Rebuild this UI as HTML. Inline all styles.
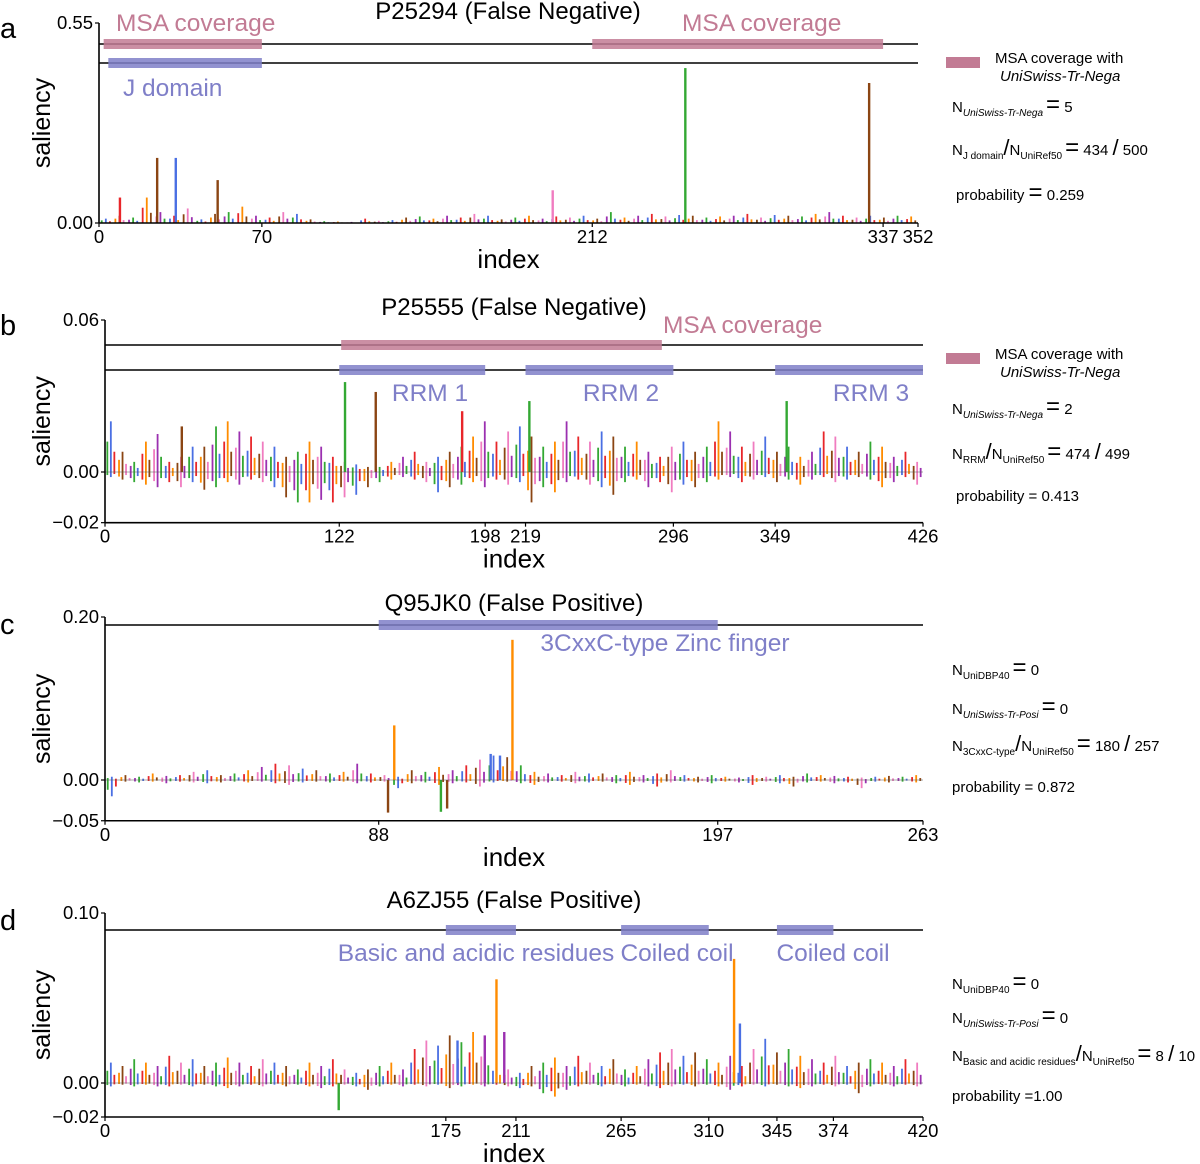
<!DOCTYPE html>
<html><head><meta charset="utf-8"><style>
body{margin:0;background:#fff;}
svg{display:block;font-family:"Liberation Sans",Arial,sans-serif;}
</style></head><body>
<svg id="fig" width="1200" height="1164" viewBox="0 0 1200 1164" xmlns="http://www.w3.org/2000/svg"></svg>
<script>
// ---------- data ----------
const aPeakIdx=[9,25,33,51,195,252,331];
const aPeakVal=[0.07,0.179,0.179,0.118,0.09,0.426,0.385];
const aPeakCol=[2,4,1,4,5,0,4];
const aPos=[0.012,0.02,0.015,0.07,0.03,0.02,0.04,0.01,0.025,0.03,0.045,0.02,0.015,0.03,0.025,0.01,0.005,0.004,0.003,0.012,0.006,0.008,0.015,0.018,0.012,0.02,0.015,0.025,0.02,0.01,0.015,0.02,0.012,0.018,0.015,0.02,0.012,0.03,0.015,0.02,0.025,0.018,0.022,0.02,0.015,0.018,0.02,0.025,0.015,0.022,0.02,0.018,0.025,0.03,0.02,0.015,0.02,0.015,0.02,0.018];
const aNeg=[];

const bPeakIdx=[125,141,186,221,355,40];
const bPeakVal=[0.0355,0.0316,0.024,0.028,0.028,0.018];
const bPeakCol=[0,4,2,0,0,4];
const bPos=[0.02,0.008,0.004,0.012,0.015,0.004,0.006,0.01,0.01,0.018,0.02,0.016,0.014,0.012,0.01,0.006,0.008,0.012,0.01,0.006,0.004,0.003,0.002,0.002,0.004,0.006,0.008,0.004,0.006,0.008,0.01,0.014,0.02,0.012,0.016,0.018,0.014,0.01,0.012,0.02,0.014,0.012,0.016,0.014,0.01,0.012,0.008,0.006,0.01,0.012,0.008,0.01,0.02,0.016,0.01,0.012,0.014,0.008,0.01,0.006,0.008,0.016,0.014,0.01,0.008,0.012,0.01,0.006,0.008,0.004];
const bNeg=[-0.002,-0.003,-0.004,-0.005,-0.006,-0.004,-0.006,-0.004,-0.007,-0.006,-0.004,-0.005,-0.003,-0.004,-0.006,-0.01,-0.012,-0.012,-0.011,-0.012,-0.01,-0.009,-0.006,-0.004,-0.003,-0.002,-0.003,-0.004,-0.008,-0.006,-0.005,-0.004,-0.006,-0.003,-0.005,-0.004,-0.012,-0.006,-0.008,-0.004,-0.003,-0.005,-0.006,-0.009,-0.004,-0.003,-0.006,-0.004,-0.008,-0.005,-0.006,-0.004,-0.003,-0.002,-0.004,-0.003,-0.002,-0.004,-0.003,-0.005,-0.003,-0.002,-0.004,-0.003,-0.002,-0.003,-0.006,-0.004,-0.002,-0.005];

const cPeakIdx=[131,93,91,108,110,124,127];
const cPeakVal=[0.172,0.067,-0.04,-0.039,-0.035,0.032,0.03];
const cPeakCol=[3,3,4,0,4,1,1];
const cPos=[0.004,0.006,0.004,0.008,0.005,0.006,0.01,0.012,0.006,0.008,0.012,0.016,0.02,0.018,0.014,0.012,0.008,0.01,0.02,0.008,0.006,0.004,0.012,0.01,0.016,0.012,0.018,0.025,0.03,0.028,0.018,0.01,0.008,0.006,0.01,0.008,0.008,0.006,0.01,0.006,0.008,0.012,0.006,0.004,0.006,0.004,0.003,0.006,0.004,0.006,0.004,0.008,0.006,0.005,0.004,0.003,0.004,0.005,0.004,0.006];
const cNeg=[-0.02,-0.002,-0.003,-0.002,-0.004,-0.002,-0.003,-0.004,-0.003,-0.002,-0.003,-0.002,-0.004,-0.006,-0.003,-0.002,-0.003,-0.002,-0.004,-0.003,-0.002,-0.01,-0.004,-0.003,-0.006,-0.004,-0.003,-0.008,-0.003,-0.002,-0.004,-0.006,-0.003,-0.002,-0.004,-0.003,-0.002,-0.004,-0.006,-0.003,-0.008,-0.003,-0.002,-0.003,-0.004,-0.002,-0.003,-0.006,-0.002,-0.004,-0.008,-0.003,-0.002,-0.004,-0.003,-0.01,-0.002,-0.003,-0.002,-0.003];

const dPeakIdx=[201,323,326,205,120,181,195];
const dPeakVal=[0.061,0.073,0.035,0.03,-0.016,0.025,0.028];
const dPeakCol=[3,3,1,6,0,1,6];
const dPos=[0.012,0.01,0.014,0.012,0.01,0.016,0.012,0.014,0.01,0.012,0.015,0.012,0.01,0.014,0.012,0.01,0.008,0.012,0.01,0.014,0.008,0.006,0.008,0.01,0.012,0.008,0.02,0.025,0.022,0.028,0.024,0.03,0.026,0.012,0.008,0.006,0.01,0.012,0.015,0.01,0.016,0.012,0.01,0.014,0.008,0.01,0.014,0.018,0.02,0.016,0.018,0.014,0.012,0.016,0.01,0.02,0.026,0.018,0.02,0.016,0.014,0.012,0.016,0.01,0.012,0.014,0.012,0.01,0.014,0.012];
const dNeg=[-0.002,-0.001,-0.002,-0.001,-0.002,-0.002,-0.001,-0.002,-0.001,-0.002,-0.003,-0.002,-0.001,-0.002,-0.001,-0.002,-0.001,-0.002,-0.003,-0.002,-0.001,-0.002,-0.004,-0.002,-0.001,-0.002,-0.001,-0.002,-0.001,-0.003,-0.002,-0.001,-0.002,-0.001,-0.002,-0.003,-0.002,-0.006,-0.008,-0.004,-0.002,-0.001,-0.002,-0.001,-0.002,-0.001,-0.002,-0.003,-0.002,-0.001,-0.002,-0.001,-0.002,-0.004,-0.002,-0.001,-0.002,-0.001,-0.002,-0.003,-0.002,-0.001,-0.002,-0.001,-0.006,-0.002,-0.001,-0.002,-0.001,-0.002];

const palette=["#33a833","#4a6fe3","#e8262a","#ff8c00","#8b4513","#f07cc0","#9b30b0"];

// ---------- helpers ----------
const NS="http://www.w3.org/2000/svg";
const svg=document.getElementById('fig');
function el(tag,attrs,parent,text){
  const e=document.createElementNS(NS,tag);
  for(const k in attrs) e.setAttribute(k,attrs[k]);
  if(text!==undefined) e.textContent=text;
  (parent||svg).appendChild(e);
  return e;
}

function panel(p){
  const g=el('g',{});
  
  
  const sx=v=>p.x0+(v/p.n)*(p.x1-p.x0);
  const sy=v=>p.y0-(v/p.ymax)*(p.y0-p.ytop);
  const drawSeries=(arr)=>{
    const bin=p.n/arr.length;
    arr.forEach((v,i)=>{
      for(let k=0;k<3;k++){
        const idx=(i+0.2+k*0.3)*bin;
        const vv=v*(k===1?1:(k===0?0.6:0.4));
        const y1=sy(0), y2=sy(vv);
        const r=el('rect',{x:sx(idx)-0.9,y:Math.min(y1,y2),width:1.8,height:Math.max(0.5,Math.abs(y2-y1)),fill:palette[(i*3+k)%7]},g);
        
        
      }
    });
  };
  drawSeries(p.pos); drawSeries(p.neg);
  p.pIdx.forEach((ix,i)=>{
    const y1=sy(0), y2=sy(p.pVal[i]);
    const r=el('rect',{x:sx(ix)-1.2,y:Math.min(y1,y2),width:2.4,height:Math.abs(y2-y1),fill:palette[p.pCol[i]]},g);
    
    
  });
  el('line',{x1:p.x0,x2:p.x1,y1:sy(0),y2:sy(0),stroke:'#555','stroke-width':0.6},g);
  p.tracks.forEach(t=>{
    const ln=el('line',{x1:p.x0,x2:p.x1,y1:t.y,y2:t.y,stroke:'#000','stroke-width':1.5},g);
    
    
    t.bars.forEach(b=>{
      const r=el('rect',{x:sx(b[0]),y:t.y-5,width:sx(b[1])-sx(b[0]),height:10,fill:t.color,opacity:0.85},g);
      
      
    });
  });
  p.labels.forEach(l=>{
    const t=el('text',{x:l[0],y:l[1],'font-size':24.5,fill:l[3],'text-anchor':l[4]||'middle'},g,l[2]);
    
    
  });
  const ybot=sy(p.ymin);
  el('line',{x1:p.x0,x2:p.x0,y1:p.ytop,y2:ybot,stroke:'#000','stroke-width':1.6},g);
  el('line',{x1:p.x0,x2:p.x1,y1:ybot,y2:ybot,stroke:'#000','stroke-width':1.6},g);
  p.yt.forEach((v,i)=>{
    el('line',{x1:p.x0-4,x2:p.x0,y1:sy(v),y2:sy(v),stroke:'#000','stroke-width':1.2},g);
    const t=el('text',{x:p.x0-6,y:sy(v)+6,'font-size':18.5,'text-anchor':'end'},g,p.ytl[i]);
    
    
  });
  p.xt.forEach(v=>{
    el('line',{x1:sx(v),x2:sx(v),y1:ybot,y2:ybot+4,stroke:'#000','stroke-width':1.2},g);
    const t=el('text',{x:sx(v),y:ybot+20,'font-size':18.5,'text-anchor':'middle'},g,String(v));
    
    
  });
  const xl=el('text',{x:(p.x0+p.x1)/2,y:ybot+45,'font-size':26,'text-anchor':'middle'},g,'index');
  
  
  const cy=(p.ytop+ybot)/2;
  const yl=el('text',{x:50,y:cy,'font-size':25,'text-anchor':'middle',transform:`rotate(-90 50 ${cy})`},g,'saliency');
  
  
  const ti=el('text',{x:p.titleX,y:p.titleY,'font-size':24,'text-anchor':'middle'},g,p.title);
  
  
  const le=el('text',{x:0,y:p.letterY,'font-size':29},g,p.letter);
  
  
}

const PINK="#c27b94", BLUE="#7f7fc8";
panel({letter:'a',letterY:38,x0:99,x1:918,n:352,ytop:23,y0:223,ymax:0.55,ymin:0,
  yt:[0.55,0],ytl:['0.55','0.00'],xt:[0,70,212,337,352],
  pos:aPos,neg:aNeg,pIdx:aPeakIdx,pVal:aPeakVal,pCol:aPeakCol,
  tracks:[{y:44,color:PINK,bars:[[2,70],[212,337]]},{y:63,color:BLUE,bars:[[4,70]]}],
  labels:[[116,31,'MSA coverage',PINK,'start'],[682,31,'MSA coverage',PINK,'start'],[123,96,'J domain',BLUE,'start']],
  title:'P25294 (False Negative)',titleX:508,titleY:19});
panel({letter:'b',letterY:335,x0:105,x1:923,n:426,ytop:320,y0:472,ymax:0.06,ymin:-0.02,
  yt:[0.06,0,-0.02],ytl:['0.06','0.00','\u22120.02'],xt:[0,122,198,219,296,349,426],
  pos:bPos,neg:bNeg,pIdx:bPeakIdx,pVal:bPeakVal,pCol:bPeakCol,
  tracks:[{y:345,color:PINK,bars:[[123,290]]},{y:370,color:BLUE,bars:[[122,198],[219,296],[349,426]]}],
  labels:[[663,333,'MSA coverage',PINK,'start'],[430,401,'RRM 1',BLUE],[621,401,'RRM 2',BLUE],[871,401,'RRM 3',BLUE]],
  title:'P25555 (False Negative)',titleX:514,titleY:315});
panel({letter:'c',letterY:634,x0:105,x1:923,n:263,ytop:617,y0:780,ymax:0.2,ymin:-0.05,
  yt:[0.2,0,-0.05],ytl:['0.20','0.00','\u22120.05'],xt:[0,88,197,263],
  pos:cPos,neg:cNeg,pIdx:cPeakIdx,pVal:cPeakVal,pCol:cPeakCol,
  tracks:[{y:625,color:BLUE,bars:[[88,197]]}],
  labels:[[665,651,'3CxxC-type Zinc finger',BLUE]],
  title:'Q95JK0 (False Positive)',titleX:514,titleY:611});
panel({letter:'d',letterY:930,x0:105,x1:923,n:420,ytop:913,y0:1083,ymax:0.1,ymin:-0.02,
  yt:[0.1,0,-0.02],ytl:['0.10','0.00','\u22120.02'],xt:[0,175,211,265,310,345,374,420],
  pos:dPos,neg:dNeg,pIdx:dPeakIdx,pVal:dPeakVal,pCol:dPeakCol,
  tracks:[{y:930,color:BLUE,bars:[[175,211],[265,310],[345,374]]}],
  labels:[[476,961,'Basic and acidic residues',BLUE],[677,961,'Coiled coil',BLUE],[833,961,'Coiled coil',BLUE]],
  title:'A6ZJ55 (False Positive)',titleX:514,titleY:908});
</script>
<svg width="1200" height="1164" style="position:absolute;left:0;top:0;font-family:'Liberation Sans',Arial,sans-serif">
 <g font-size="15" fill="#000">
  <rect x="946" y="57" width="34" height="11" fill="#c27b94"/>
  <text x="995" y="63">MSA coverage with</text>
  <text x="1000" y="81" font-style="italic">UniSwiss-Tr-Nega</text>
  <text x="952" y="112">N<tspan font-size="10" font-style="italic" dy="4">UniSwiss-Tr-Nega</tspan><tspan dy="-4" font-size="24" dx="3">=</tspan> 5</text>
  <text x="952" y="155">N<tspan font-size="10" dy="4">J domain</tspan><tspan dy="-4" font-size="22">/</tspan>N<tspan font-size="10" dy="4">UniRef50</tspan><tspan dy="-4" font-size="24" dx="3">=</tspan> 434 <tspan font-size="22">/</tspan> 500</text>
  <text x="956" y="200">probability <tspan font-size="24">=</tspan> 0.259</text>

  <rect x="946" y="353" width="34" height="11" fill="#c27b94"/>
  <text x="995" y="359">MSA coverage with</text>
  <text x="1000" y="377" font-style="italic">UniSwiss-Tr-Nega</text>
  <text x="952" y="414">N<tspan font-size="10" font-style="italic" dy="4">UniSwiss-Tr-Nega</tspan><tspan dy="-4" font-size="24" dx="3">=</tspan> 2</text>
  <text x="952" y="459">N<tspan font-size="10" dy="4">RRM</tspan><tspan dy="-4" font-size="22">/</tspan>N<tspan font-size="10" dy="4">UniRef50</tspan><tspan dy="-4" font-size="24" dx="3">=</tspan> 474 <tspan font-size="22">/</tspan> 499</text>
  <text x="956" y="501">probability = 0.413</text>

  <text x="952" y="675">N<tspan font-size="10" dy="4">UniDBP40</tspan><tspan dy="-4" font-size="24" dx="3">=</tspan> 0</text>
  <text x="952" y="714">N<tspan font-size="10" font-style="italic" dy="4">UniSwiss-Tr-Posi</tspan><tspan dy="-4" font-size="24" dx="3">=</tspan> 0</text>
  <text x="952" y="751">N<tspan font-size="10" dy="4">3CxxC-type</tspan><tspan dy="-4" font-size="22">/</tspan>N<tspan font-size="10" dy="4">UniRef50</tspan><tspan dy="-4" font-size="24" dx="3">=</tspan> 180 <tspan font-size="22">/</tspan> 257</text>
  <text x="952" y="792">probability = 0.872</text>

  <text x="952" y="989">N<tspan font-size="10" dy="4">UniDBP40</tspan><tspan dy="-4" font-size="24" dx="3">=</tspan> 0</text>
  <text x="952" y="1023">N<tspan font-size="10" font-style="italic" dy="4">UniSwiss-Tr-Posi</tspan><tspan dy="-4" font-size="24" dx="3">=</tspan> 0</text>
  <text x="952" y="1061">N<tspan font-size="10" dy="4">Basic and acidic residues</tspan><tspan dy="-4" font-size="22">/</tspan>N<tspan font-size="10" dy="4">UniRef50</tspan><tspan dy="-4" font-size="24" dx="3">=</tspan> 8 <tspan font-size="22">/</tspan> 10</text>
  <text x="952" y="1101">probability =1.00</text>
 </g>
</svg>
</body></html>
